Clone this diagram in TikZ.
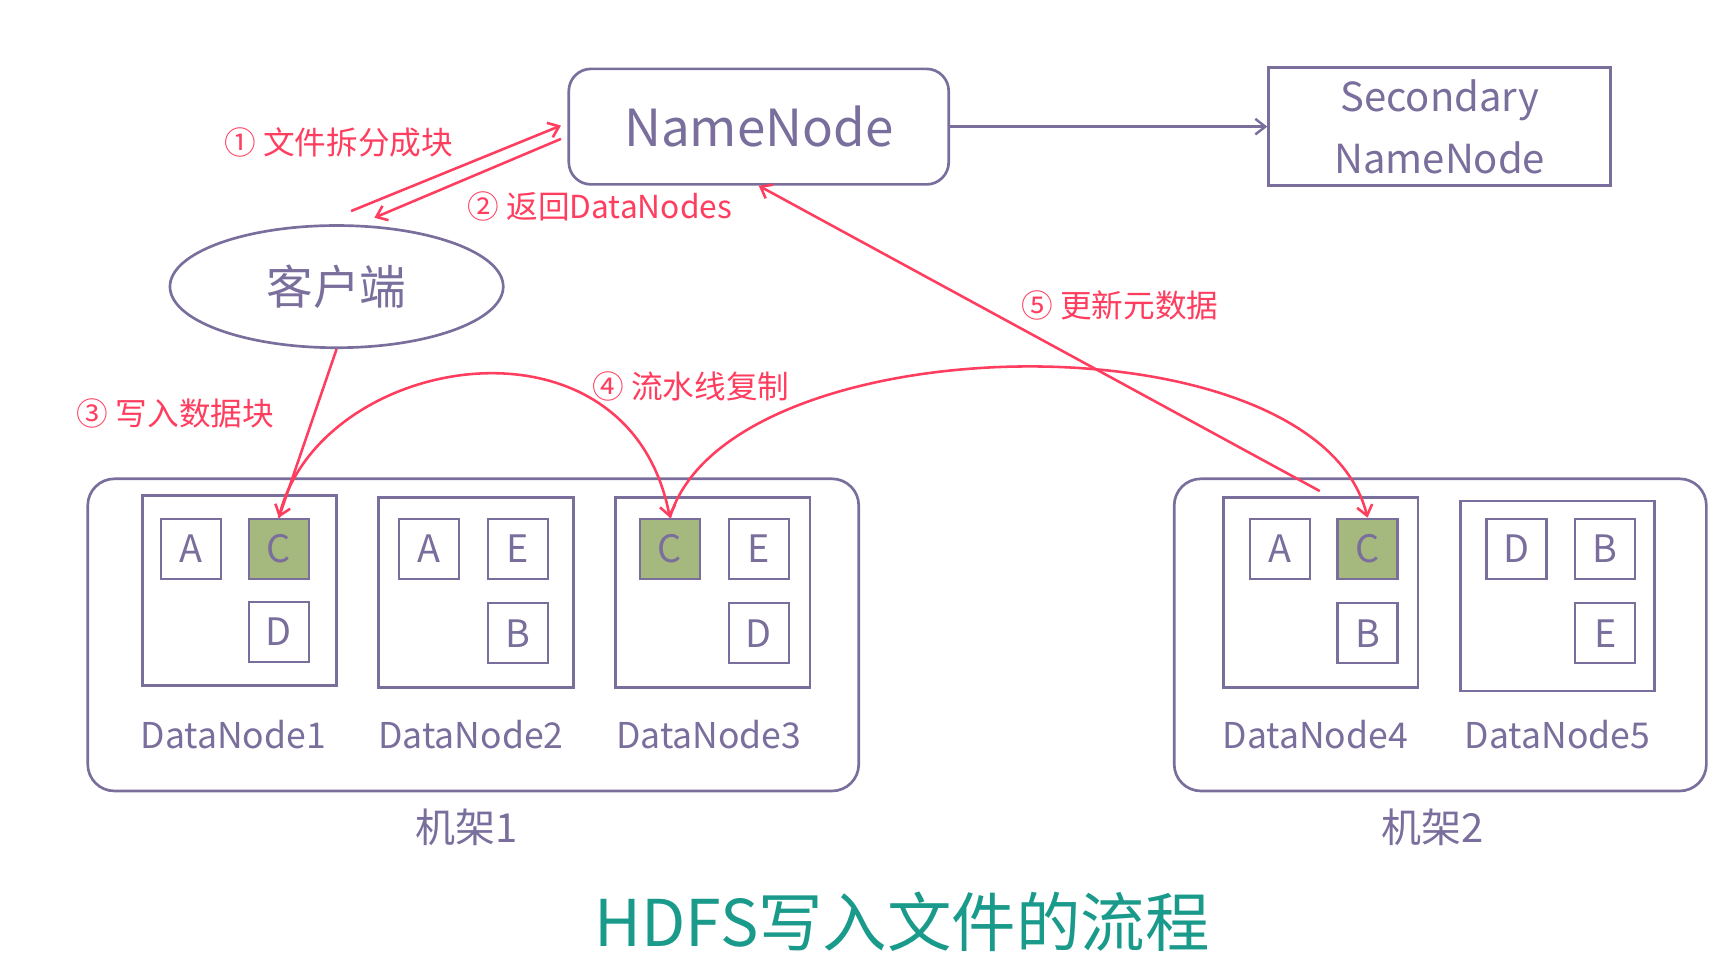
\documentclass[tikz,border=0pt]{standalone}
\usepackage{fontspec}
\setmainfont{Noto Sans CJK SC}
\usetikzlibrary{shapes.geometric,arrows.meta}
\definecolor{pg}{HTML}{7A6E9C}
\definecolor{rd}{HTML}{FF3D5E}
\definecolor{gr}{HTML}{A5B97F}
\definecolor{tl}{HTML}{1A9A8A}
\begin{document}
\begin{tikzpicture}[x=1pt,y=-1pt,
  box/.style={draw=pg,line width=2pt,minimum width=54pt,minimum height=54pt,inner sep=0pt,text=pg,font=\fontsize{34}{34}\selectfont},
  gbox/.style={box,fill=gr},
  dn/.style={draw=pg,line width=2.4pt,minimum width=175pt,minimum height=171pt,inner sep=0pt},
  rack/.style={draw=pg,line width=2.4pt,rounded corners=24pt},
  lbl/.style={text=pg,font=\fontsize{32}{32}\selectfont},
  rl/.style={text=rd,font=\fontsize{28.5}{28.5}\selectfont},
  ra/.style={draw=rd,line width=2.3pt,-{Straight Barb[length=9pt,width=14pt]}}]
\useasboundingbox (0,0) rectangle (1560,863);
\node[draw=pg,line width=2.4pt,rounded corners=20pt,minimum width=342pt,minimum height=104pt,text=pg,font=\fontsize{46}{46}\selectfont] (nn) at (683,114) {NameNode};
\node[draw=pg,line width=2.4pt,minimum width=308pt,minimum height=106pt,text=pg,font=\fontsize{36}{56}\selectfont,align=center] (snn) at (1296,114) {Secondary\\NameNode};
\draw[pg,line width=2.2pt,-{Straight Barb[length=9pt,width=14pt]}] (nn.east) -- (snn.west);
\node[ellipse,draw=pg,line width=2.4pt,minimum width=300pt,minimum height=110pt,text=pg,font=\fontsize{42}{42}\selectfont] (cl) at (303,258) {客户端};
% racks
\draw[rack] (79,431) rectangle (773,712);
\draw[rack] (1057,431) rectangle (1536,712);
\node[lbl,font=\fontsize{36}{36}\selectfont] (r1) at (420,745) {机架1};
\node[lbl,font=\fontsize{36}{36}\selectfont] (r2) at (1290,745) {机架2};
% datanodes
\node[dn] (d1) at (215.5,531.5) {};
\node[dn] (d2) at (428.5,533.5) {};
\node[dn] (d3) at (641.5,533.5) {};
\node[dn] (d4) at (1189,533.5) {};
\node[dn] (d5) at (1402,536.5) {};
\node[lbl] at (210,661) {DataNode1};
\node[lbl] at (424,661) {DataNode2};
\node[lbl] at (638,661) {DataNode3};
\node[lbl] at (1184,661) {DataNode4};
\node[lbl] at (1402,661) {DataNode5};
\node[box] (a1) at (172,494) {A};
\node[gbox] (c1) at (251,494) {C};
\node[box] (dd1) at (251,569) {D};
\node[box] (a2) at (386,494) {A};
\node[box] (e2) at (466,494) {E};
\node[box] (b2) at (466,570) {B};
\node[gbox] (c3) at (603,494) {C};
\node[box] (e3) at (683,494) {E};
\node[box] (dd3) at (683,570) {D};
\node[box] (a4) at (1152,494) {A};
\node[gbox] (c4) at (1231,494) {C};
\node[box] (b4) at (1231,570) {B};
\node[box] (dd5) at (1365,494) {D};
\node[box] (b5) at (1445,494) {B};
\node[box] (e5) at (1445,570) {E};
% red arrows
\coordinate (p1s) at (316,190);
\coordinate (p1e) at (505,113);
\coordinate (p2s) at (505,125);
\coordinate (p2e) at (337,196);
\draw[ra] (p1s) -- (p1e);
\draw[ra] (p2s) -- (p2e);
\node[rl] at (305,128) {① 文件拆分成块};
\node[rl] at (540,186) {② 返回DataNodes};
\draw[ra] (cl.south) -- (c1.north);
\node[rl] at (158,372) {③ 写入数据块};
\draw[ra] (c1.north) .. controls (285,318) and (565,270) .. (c3.north);
\draw[ra] (c3.north) .. controls (655,290) and (1185,280) .. (c4.north);
\node[rl] at (622,348) {④ 流水线复制};
\coordinate (u5) at (1188,442);
\draw[ra] (u5) -- (nn.south);
\node[rl] at (1008,275) {⑤ 更新元数据};
\node[text=tl,font=\fontsize{58}{58}\selectfont] (t) at (812,830) {HDFS写入文件的流程};
\end{tikzpicture}
\end{document}
